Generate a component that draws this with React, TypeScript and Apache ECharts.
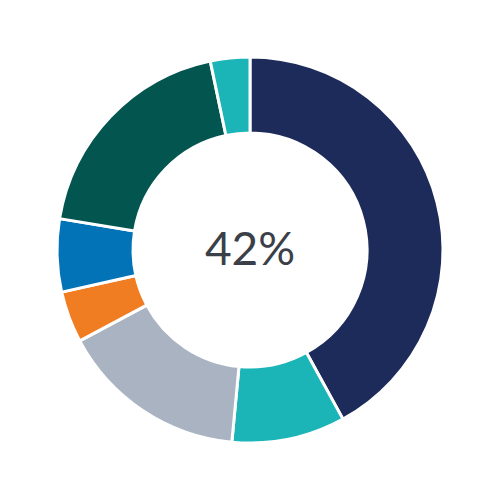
import { useEffect, useRef } from 'react'
import * as echarts from 'echarts'

const categories = ['A', 'B', 'C', 'D', 'E', 'F', 'G']
const values = [42, 9.5, 15.7, 4.3, 6.1, 19.1, 3.3]
const colors = ['#1d2b5b', '#1bb5b7', '#a9b3c1', '#f17d22', '#0173b6', '#03554f', '#1bb5b7']
const centerLabel = '42%'

export default function App() {
  const chartRef = useRef<HTMLDivElement | null>(null)

  useEffect(() => {
    if (!chartRef.current) {
      return
    }
    document.body.style.margin = '0'

    const chart = echarts.init(chartRef.current, undefined, { renderer: 'svg' })

    chart.setOption({
      animation: false,
      graphic: [
        {
          type: 'text',
          left: 'center',
          top: 224,
          style: {
            text: centerLabel,
            fontSize: 46,
            fontFamily: 'Lato',
            fill: '#3b4048',
          },
        },
      ],
      series: [
        {
          type: 'pie',
          center: ['50%', '50%'],
          radius: ['46.8%', '77.2%'],
          startAngle: 90,
          clockwise: true,
          label: { show: false },
          labelLine: { show: false },
          emphasis: { disabled: true },
          itemStyle: {
            borderColor: '#ffffff',
            borderWidth: 3,
          },
          data: categories.map((name, i) => ({
            name,
            value: values[i],
            itemStyle: { color: colors[i] },
          })),
        },
      ],
    })

    return () => {
      chart.dispose()
    }
  }, [])

  return <div ref={chartRef} style={{ width: 500, height: 500 }} />
}
